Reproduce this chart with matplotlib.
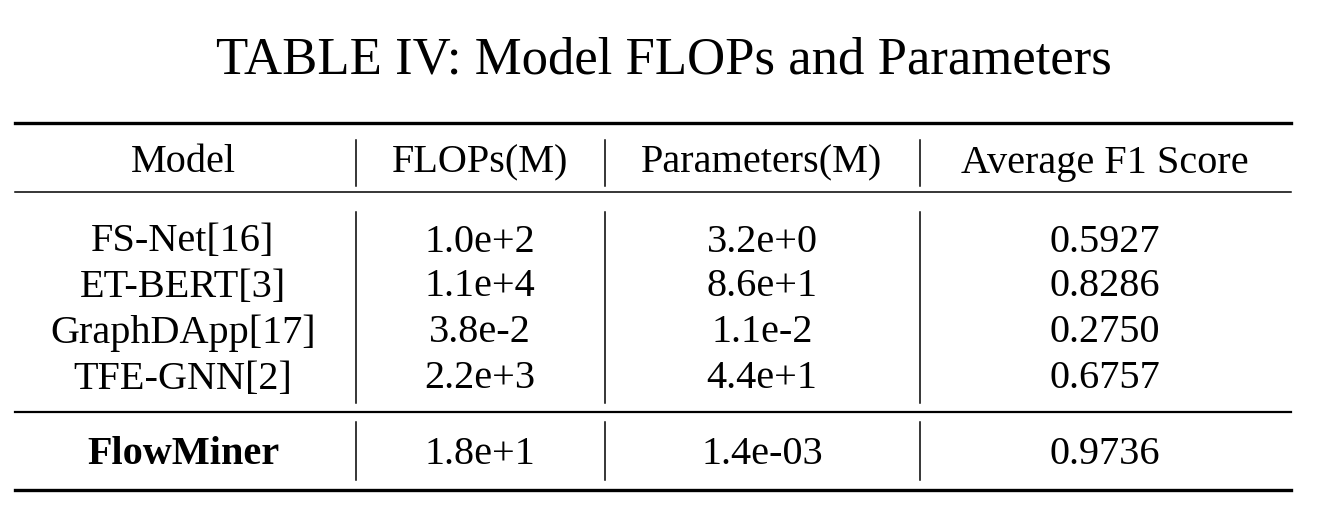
import matplotlib.pyplot as plt
from matplotlib.lines import Line2D

plt.rcParams['font.family'] = ['Liberation Serif', 'DejaVu Serif']

title = "TABLE IV: Model FLOPs and Parameters"
headers = ["Model", "FLOPs(M)", "Parameters(M)", "Average F1 Score"]
models = ["FS-Net[16]", "ET-BERT[3]", "GraphDApp[17]", "TFE-GNN[2]", "FlowMiner"]
flops = ["1.0e+2", "1.1e+4", "3.8e-2", "2.2e+3", "1.8e+1"]
params = ["3.2e+0", "8.6e+1", "1.1e-2", "4.4e+1", "1.4e-03"]
f1 = ["0.5927", "0.8286", "0.2750", "0.6757", "0.9736"]

W, H = 1328, 523
fig = plt.figure(figsize=(W / 100, H / 100), dpi=100)


def fy(y):
    return 1 - y / H


def hline(y, lw):
    fig.add_artist(Line2D([15 / W, 1291 / W], [fy(y), fy(y)], color="black", lw=lw))


def vline(x, y0, y1):
    fig.add_artist(Line2D([x / W, x / W], [fy(y0), fy(y1)], color="black", lw=1.1))


fig.text(0.5, fy(60), title, ha="center", va="center", fontsize=38)

hline(123, 2.4)
hline(192, 1.1)
hline(412, 1.6)
hline(490, 2.4)

col_x = [183, 480, 762, 1105]
for x in [356, 605, 920]:
    vline(x, 140, 186)
    vline(x, 212, 403)
    vline(x, 422, 480)

fs = 29
for x, h in zip(col_x, headers):
    fig.text(x / W, fy(163), h, ha="center", va="center", fontsize=fs)

row_y = [240, 285, 331, 377, 453]
for i, y in enumerate(row_y):
    cells = [models[i], flops[i], params[i], f1[i]]
    for j, (x, c) in enumerate(zip(col_x, cells)):
        weight = "bold" if (i == len(row_y) - 1 and j == 0) else "normal"
        fig.text(x / W, fy(y + 2), c, ha="center", va="center", fontsize=fs, weight=weight)

fig.savefig("out.png", dpi=100)
